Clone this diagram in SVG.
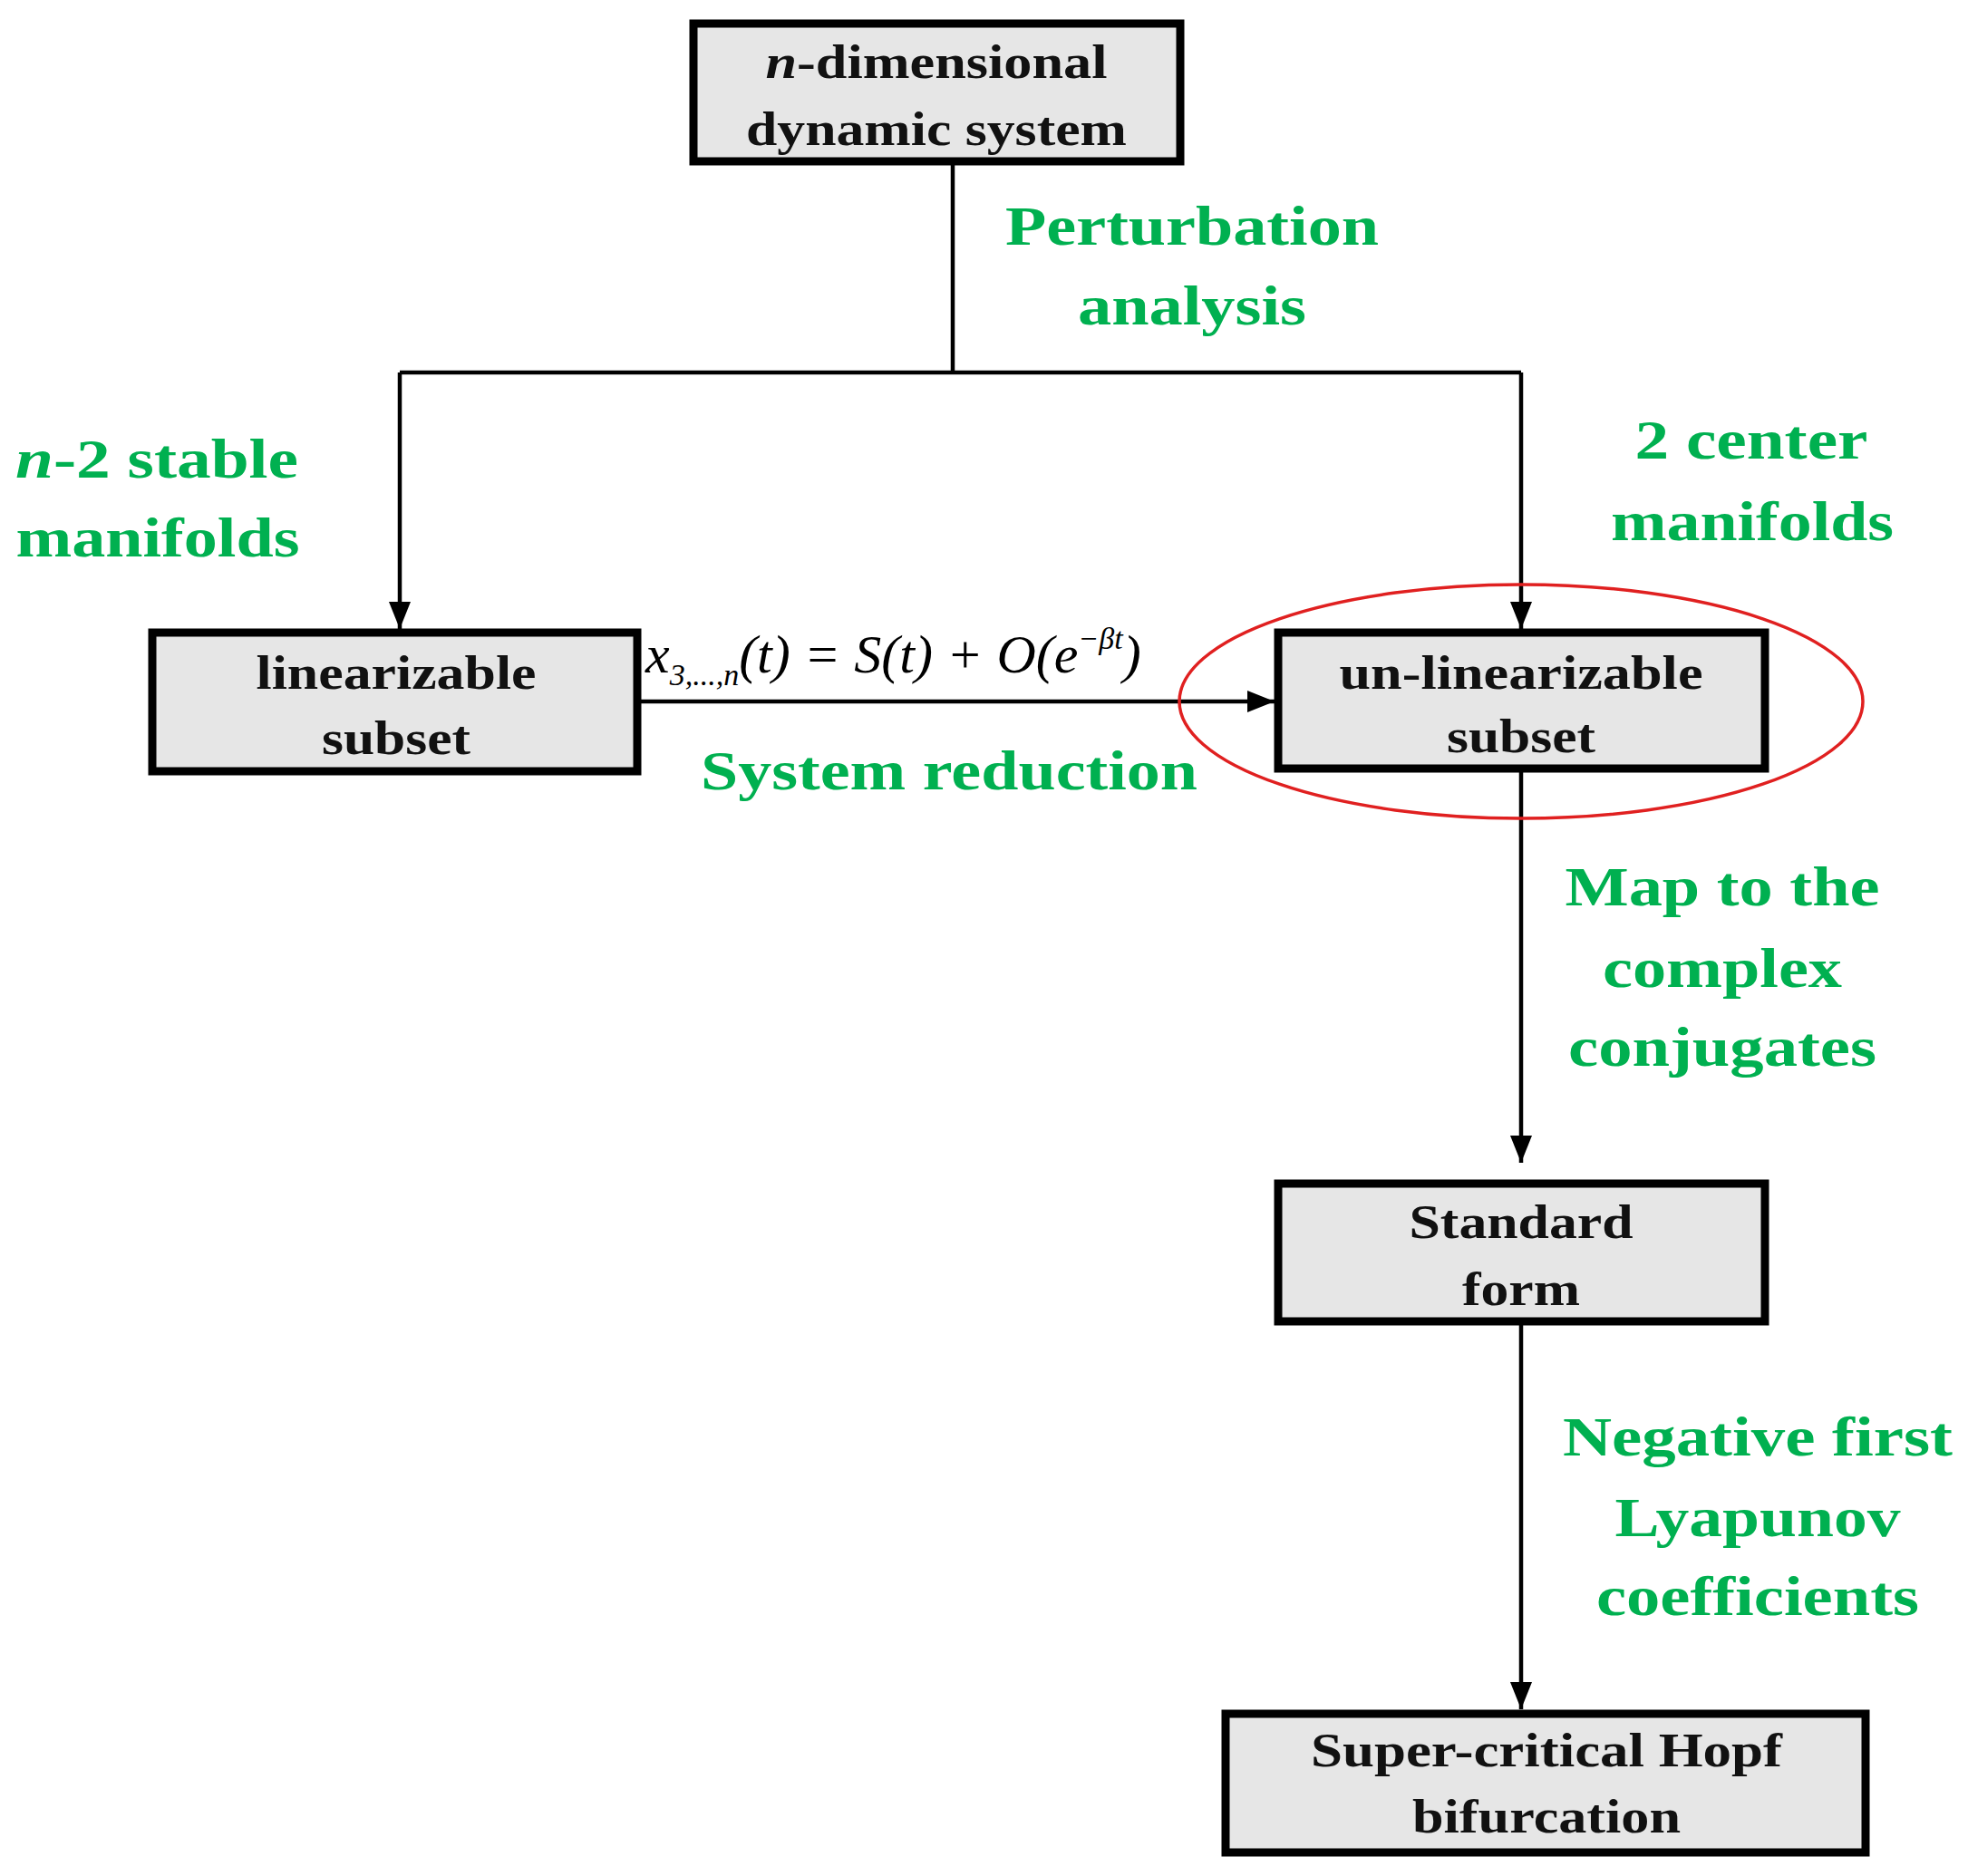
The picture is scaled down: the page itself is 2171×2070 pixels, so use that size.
<svg xmlns="http://www.w3.org/2000/svg" width="2171" height="2070" viewBox="0 0 2171 2070">
<style>
.box{fill:#e6e6e6;stroke:#000;stroke-width:9}
.bt{font-family:"Liberation Serif",serif;font-weight:bold;font-size:52px;fill:#111;text-anchor:middle}
.gt{font-family:"Liberation Serif",serif;font-weight:bold;font-size:62px;fill:#00b050;text-anchor:middle}
.ln{stroke:#000;stroke-width:4.5;fill:none}
.eq{font-family:"Liberation Serif",serif;font-style:italic;font-size:60px;fill:#000}
</style>
<defs><marker id="ah" markerWidth="10" markerHeight="10" refX="9" refY="5" orient="auto" markerUnits="userSpaceOnUse" viewBox="0 0 10 10"><path d="M0,0 L10,5 L0,10 z" fill="#000"/></marker>
<marker id="a" viewBox="0 0 10 10" refX="10" refY="5" markerWidth="34" markerHeight="30" markerUnits="userSpaceOnUse" orient="auto"><path d="M0,1 L10,5 L0,9 z" fill="#000"/></marker></defs>
<g id="connectors">
<path class="ln" d="M1051,182 V411"/>
<path class="ln" d="M441,411 H1678"/>
<path class="ln" d="M441,411 V694" marker-end="url(#a)"/>
<path class="ln" d="M1678,411 V694" marker-end="url(#a)"/>
<path class="ln" d="M705,774 H1406" marker-end="url(#a)"/>
<path class="ln" d="M1678,851 V1283" marker-end="url(#a)"/>
<path class="ln" d="M1678,1462 V1886" marker-end="url(#a)"/>
</g>
<g id="n1"><rect class="box" x="765" y="26" width="537" height="152"/>
<text class="bt" x="1033" y="86" textLength="377" lengthAdjust="spacingAndGlyphs"><tspan font-style="italic">n</tspan>-dimensional</text>
<text class="bt" x="1033" y="160" textLength="420" lengthAdjust="spacingAndGlyphs">dynamic system</text></g>
<g id="n2"><rect class="box" x="168" y="698" width="535" height="153"/>
<text class="bt" x="437" y="760" textLength="309" lengthAdjust="spacingAndGlyphs">linearizable</text>
<text class="bt" x="437" y="832" textLength="164" lengthAdjust="spacingAndGlyphs">subset</text></g>
<g id="n3"><rect class="box" x="1410" y="698" width="537" height="150"/>
<text class="bt" x="1678" y="760" textLength="401" lengthAdjust="spacingAndGlyphs">un-linearizable</text>
<text class="bt" x="1678" y="830" textLength="164" lengthAdjust="spacingAndGlyphs">subset</text></g>
<g id="n4"><rect class="box" x="1410" y="1306" width="537" height="152"/>
<text class="bt" x="1678" y="1366" textLength="247" lengthAdjust="spacingAndGlyphs">Standard</text>
<text class="bt" x="1678" y="1440" textLength="130" lengthAdjust="spacingAndGlyphs">form</text></g>
<g id="n5"><rect class="box" x="1352" y="1891" width="706" height="153"/>
<text class="bt" x="1706" y="1949" textLength="520" lengthAdjust="spacingAndGlyphs">Super-critical Hopf</text>
<text class="bt" x="1706" y="2022" textLength="296" lengthAdjust="spacingAndGlyphs">bifurcation</text></g>
<ellipse cx="1678" cy="774" rx="377" ry="129" fill="none" stroke="#e02020" stroke-width="3.5"/>
<g id="labels">
<text class="gt" x="1315" y="270" textLength="412" lengthAdjust="spacingAndGlyphs">Perturbation</text>
<text class="gt" x="1315" y="358" textLength="252" lengthAdjust="spacingAndGlyphs">analysis</text>
<text class="gt" x="173" y="527" textLength="312" lengthAdjust="spacingAndGlyphs"><tspan font-style="italic">n</tspan>-2 stable</text>
<text class="gt" x="174" y="614" textLength="313" lengthAdjust="spacingAndGlyphs">manifolds</text>
<text class="gt" x="1932" y="506" textLength="257" lengthAdjust="spacingAndGlyphs">2 center</text>
<text class="gt" x="1933" y="596" textLength="312" lengthAdjust="spacingAndGlyphs">manifolds</text>
<text class="gt" x="1047" y="871" textLength="548" lengthAdjust="spacingAndGlyphs">System reduction</text>
<text class="gt" x="1900" y="999" textLength="347" lengthAdjust="spacingAndGlyphs">Map to the</text>
<text class="gt" x="1900" y="1089" textLength="264" lengthAdjust="spacingAndGlyphs">complex</text>
<text class="gt" x="1900" y="1176" textLength="340" lengthAdjust="spacingAndGlyphs">conjugates</text>
<text class="gt" x="1939" y="1606" textLength="430" lengthAdjust="spacingAndGlyphs">Negative first</text>
<text class="gt" x="1939" y="1695" textLength="315" lengthAdjust="spacingAndGlyphs">Lyapunov</text>
<text class="gt" x="1939" y="1782" textLength="356" lengthAdjust="spacingAndGlyphs">coefficients</text>
<text class="eq" x="712" y="742">x<tspan font-size="34" dy="14">3,...,n</tspan><tspan dy="-14">(t) = S(t) + O(e</tspan><tspan font-size="34" dy="-26">−βt</tspan><tspan dy="26">)</tspan></text>
</g>
</svg>
